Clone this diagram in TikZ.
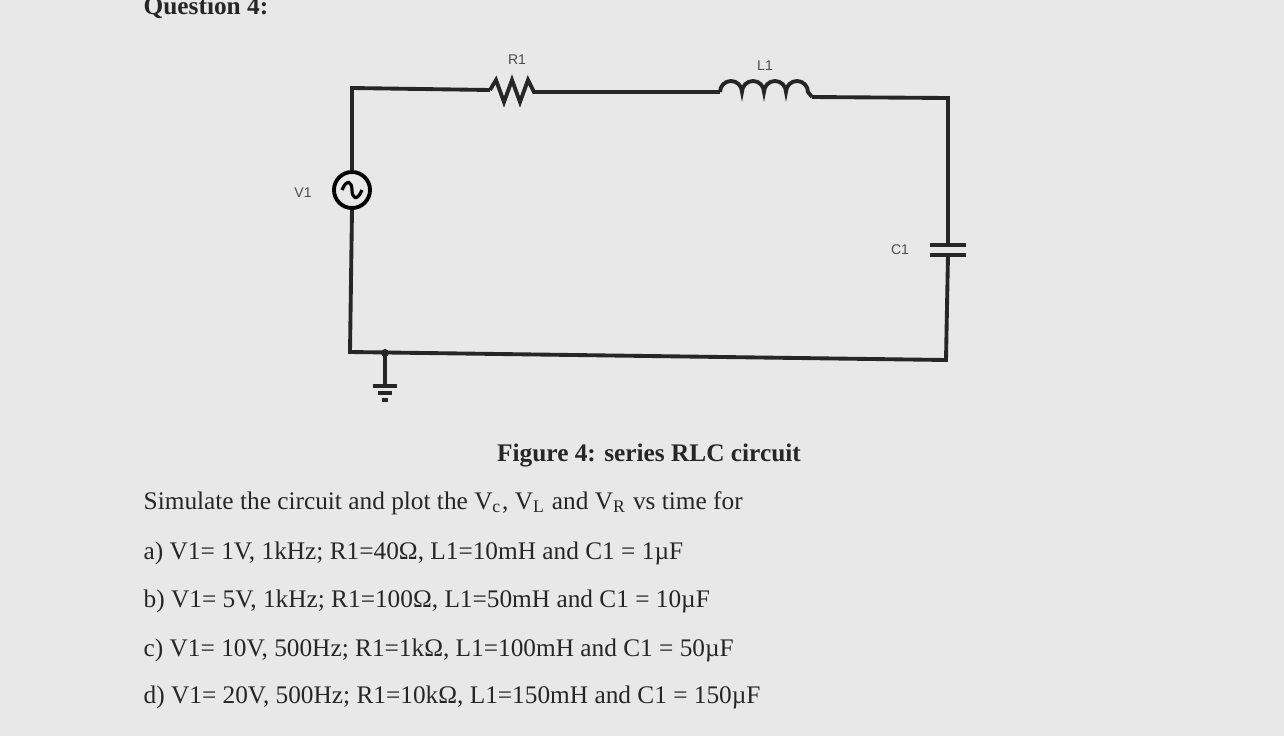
\documentclass[tikz,border=0pt]{standalone}
\usepackage{fontspec}
\setmainfont{Liberation Serif}
\newfontfamily\lab{Liberation Sans}
\begin{document}
\begin{tikzpicture}[x=0.01cm,y=-0.01cm,
 wire/.style={line width=1.1pt,draw=black!85},
 lbl/.style={font=\lab\fontsize{4}{5}\selectfont,text=black!70},
 txt/.style={font=\fontsize{7.2}{8.5}\selectfont,anchor=west,text=black!85,inner sep=0}]
\fill[black!9] (0,0) rectangle (1284,736);
\useasboundingbox (0,0) rectangle (1284,736);
\node[txt,font=\bfseries\fontsize{7.2}{8.5}\selectfont] (q) at (143,8) {Question 4:};
\coordinate (tl) at (352,88);
\coordinate (r1a) at (490,90);
\coordinate (r1b) at (540,92);
\coordinate (l1a) at (720,92);
\coordinate (l1b) at (812,97);
\coordinate (tr) at (948,98);
\coordinate (c1t) at (948,245);
\coordinate (c1b) at (948,255);
\coordinate (br) at (946,360);
\coordinate (bl) at (350,352);
\coordinate (gnd) at (385,353);
\node[circle,draw,line width=1.1pt,minimum size=0.36cm,inner sep=0] (v1) at (352,190) {};
\draw[line width=0.9pt] (342,190) .. controls (347,178) and (352,182) .. (352,190) .. controls (352,198) and (357,202) .. (362,190);
\draw[wire] (v1.north) -- (tl) -- (r1a);
\draw[wire] (r1a) -- (496,80) -- (504,102) -- (512,80) -- (520,102) -- (528,80) -- (534,92) -- (r1b);
\draw[wire] (r1b) -- (l1a);
\draw[wire] (l1a) arc[start angle=180,end angle=360,radius=11] arc[start angle=180,end angle=360,radius=11] arc[start angle=180,end angle=360,radius=11] arc[start angle=180,end angle=360,radius=11] -- (l1b);
\draw[wire] (l1b) -- (tr) -- (c1t);
\draw[wire] (930,245) -- (966,245) (930,255) -- (966,255);
\draw[wire] (c1b) -- (br) -- (bl) -- (v1.south);
\fill[black!85] (gnd) circle (4);
\draw[wire] (gnd) -- (385,386);
\draw[wire] (373,386) -- (397,386) (378,393) -- (392,393) (382,400) -- (388,400);
\node[lbl] (lr) at (517,60) {R1};
\node[lbl] (ll) at (765,66) {L1};
\node[lbl] (lv) at (303,193) {V1};
\node[lbl] (lc) at (900,250) {C1};
\node[font=\bfseries\fontsize{7.2}{8.5}\selectfont,text=black!85] (cap) at (649,456) {Figure 4: series RLC circuit};
\node[txt] (s) at (143,503) {Simulate the circuit and plot the V\textsubscript{c}, V\textsubscript{L} and V\textsubscript{R} vs time for};
\node[txt] (a) at (143,553) {a) V1= 1V, 1kHz; R1=40Ω, L1=10mH and C1 = 1µF};
\node[txt] (b) at (143,601) {b) V1= 5V, 1kHz; R1=100Ω, L1=50mH and C1 = 10µF};
\node[txt] (c) at (143,650) {c) V1= 10V, 500Hz; R1=1kΩ, L1=100mH and C1 = 50µF};
\node[txt] (d) at (143,697) {d) V1= 20V, 500Hz; R1=10kΩ, L1=150mH and C1 = 150µF};
\end{tikzpicture}
\end{document}
